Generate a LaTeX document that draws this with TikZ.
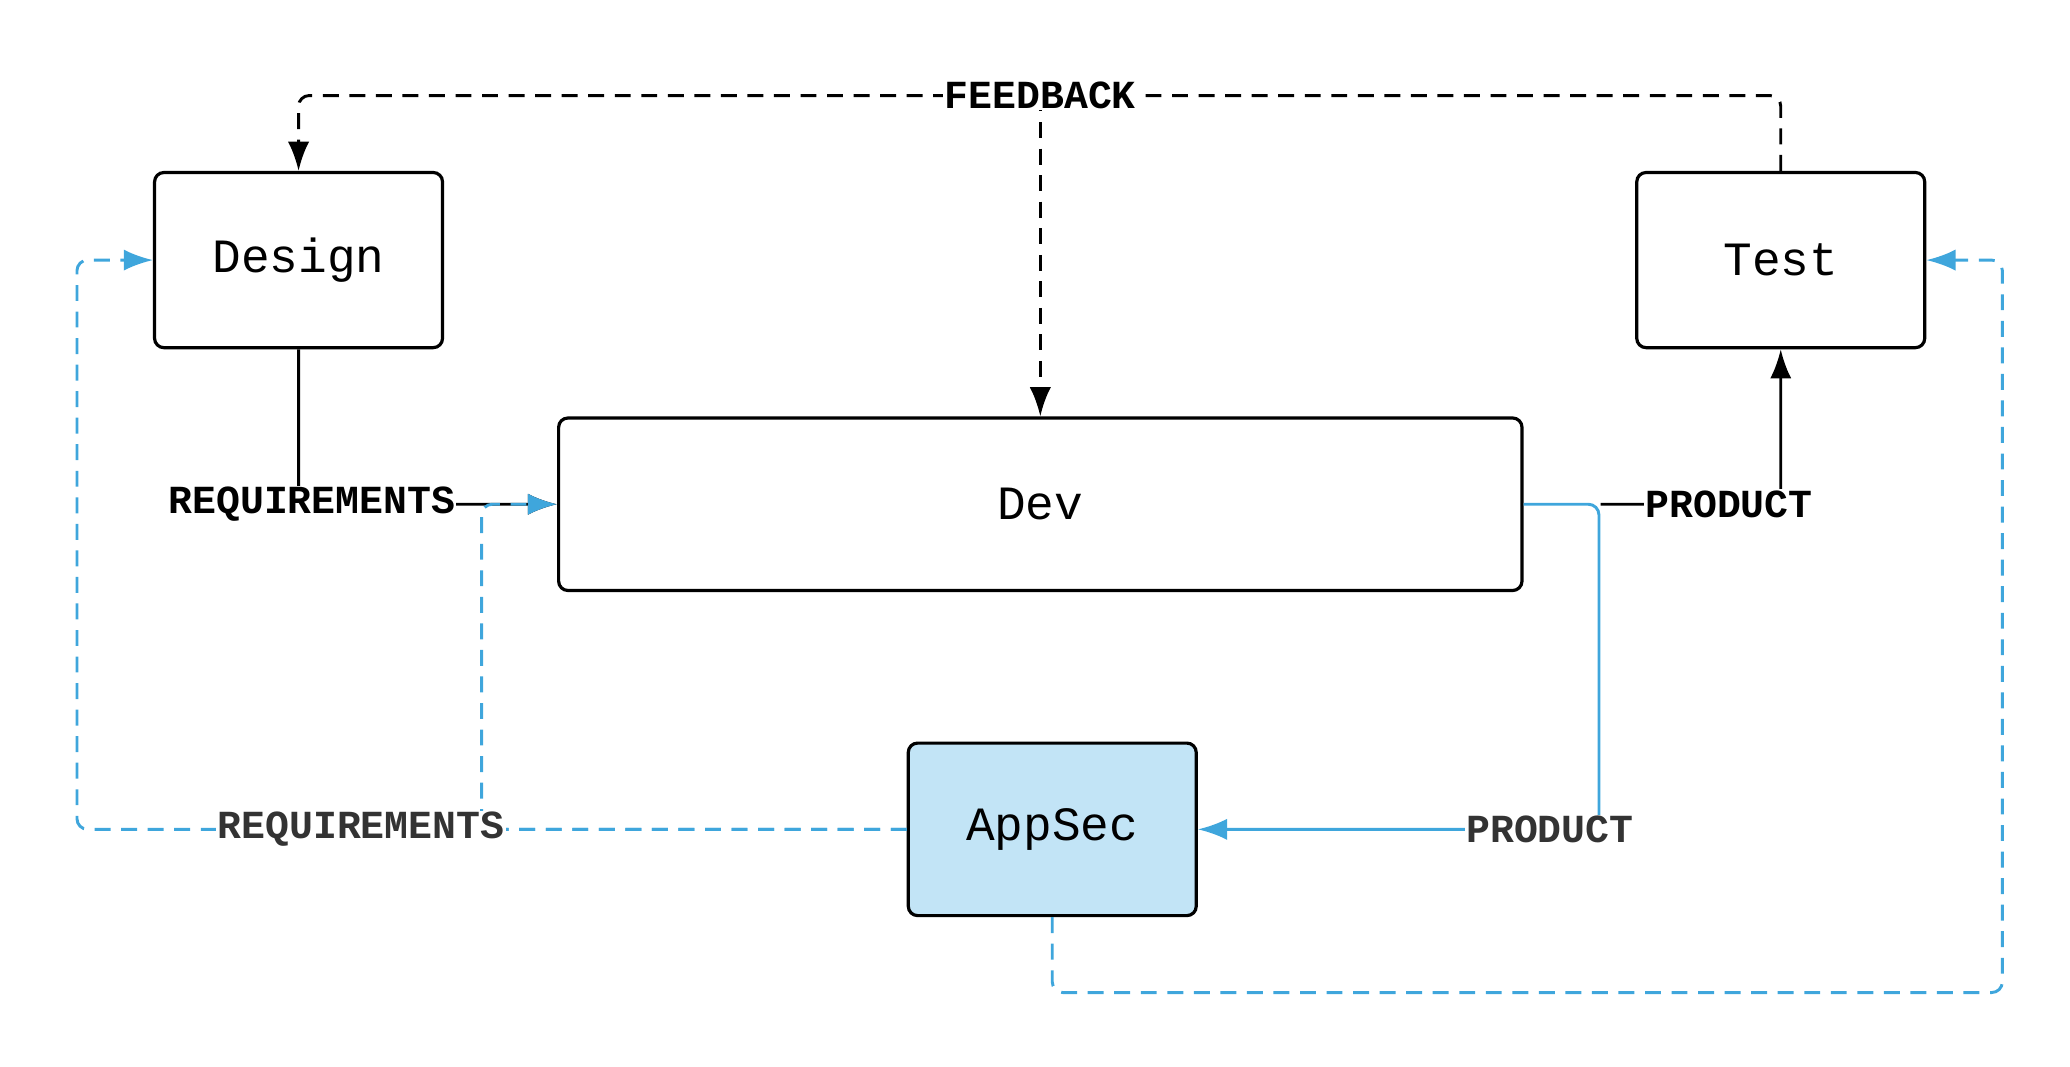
\documentclass[tikz,border=0pt]{standalone}
\usepackage{fontspec}
\setmonofont{Liberation Mono}
\usetikzlibrary{arrows.meta}
\definecolor{bl}{HTML}{3FA6DC}
\definecolor{blfill}{HTML}{C2E4F6}
\tikzset{
 box/.style={draw,line width=2.4pt,rounded corners=7pt,font=\ttfamily\fontsize{36}{36}\selectfont},
 lbl/.style={fill=white,inner sep=1pt,font=\ttfamily\bfseries\fontsize{30}{30}\selectfont},
 con/.style={line width=2.2pt,rounded corners=8pt,-{Latex[length=22pt,width=16pt]}},
 dsh/.style={dash pattern=on 12pt off 8pt},
}
\begin{document}
\begin{tikzpicture}[x=1pt,y=-1pt]
\useasboundingbox (0,0) rectangle (1560,804);
\node[box,minimum width=217pt,minimum height=132pt] (design) at (225,196) {Design};
\node[box,minimum width=217pt,minimum height=132pt] (test) at (1342,196) {Test};
\node[box,minimum width=726pt,minimum height=130pt] (dev) at (784,380) {Dev};
\node[box,fill=blfill,minimum width=217pt,minimum height=130pt] (app) at (793,625) {AppSec};
% feedback
\coordinate (fb) at (784,72);
\draw[con,dsh] (test.north) -- (1342,72) -- (225,72) -- (design.north);
\draw[con,dsh] (fb) -- (dev.north);
\node[lbl] (fbl) at (fb) {FEEDBACK};
% black
\draw[con] (design.south) -- (225,380) -- (dev.west);
\node[lbl] (rq1) at (235,380) {REQUIREMENTS};
\draw[con] (dev.east) ++(58,0) -- (1342,380) -- (test.south);
% blue
\draw[con,bl,dsh] (app.west) -- (363,625) -- (363,380) -- (dev.west);
\draw[con,bl,dsh] (app.west) -- (58,625) -- (58,196) -- (design.west);
\draw[con,bl,dsh] (app.south) -- (793,748) -- (1509,748) -- (1509,196) -- (test.east);
\draw[con,bl] (dev.east) -- (1205,380) -- (1205,625) -- (app.east);
\node[lbl,text=black!80] (rq2) at (272,625) {REQUIREMENTS};
\node[lbl] (pr1) at (1303,380) {PRODUCT};
\node[lbl,text=black!80] (pr2) at (1168,625) {PRODUCT};
\end{tikzpicture}
\end{document}
